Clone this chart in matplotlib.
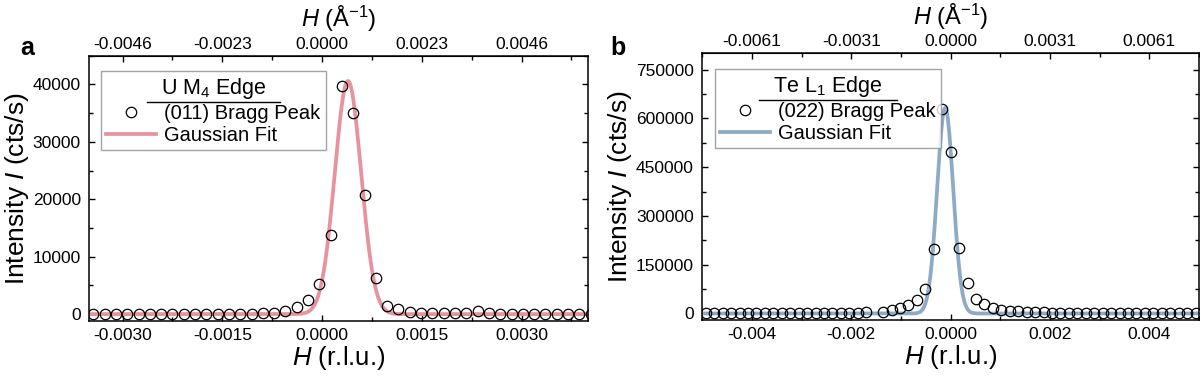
import numpy as np
import matplotlib
matplotlib.use("Agg")
import matplotlib.pyplot as plt
from matplotlib.lines import Line2D
from matplotlib.ticker import MultipleLocator

plt.rcParams['font.family'] = ['Liberation Sans', 'DejaVu Sans']
plt.rcParams['mathtext.fontset'] = 'custom'
plt.rcParams['mathtext.rm'] = 'Liberation Sans'
plt.rcParams['mathtext.it'] = 'Liberation Sans:italic'
plt.rcParams['mathtext.bf'] = 'Liberation Sans:bold'
plt.rcParams['axes.unicode_minus'] = False

# ---------------- Panel a data: U M4 edge, (011) Bragg peak ----------------
a_h = [-0.00344, -0.00327, -0.00310, -0.00293, -0.00276, -0.00259, -0.00242,
       -0.00225, -0.00208, -0.00191, -0.00174, -0.00157, -0.00140, -0.00123,
       -0.00106, -0.00089, -0.00072, -0.00055, -0.00038, -0.00021, -0.00004,
       0.00013, 0.00030, 0.00047, 0.00064, 0.00081, 0.00098, 0.00115,
       0.00132, 0.00149, 0.00166, 0.00183, 0.00200, 0.00217, 0.00234,
       0.00251, 0.00268, 0.00285, 0.00302, 0.00319, 0.00336, 0.00353,
       0.00370, 0.00387, 0.00404]
a_int = [0, 20, 0, 10, 0, 20, 10, 0, 30, 20, 40, 30, 60, 80,
         100, 120, 200, 600, 1300, 2500, 5300,
         13700, 39800, 35000, 20800, 6300, 1400, 900,
         450, 250, 180, 150, 150, 120, 500,
         120, 100, 100, 100, 80, 80, 80,
         60, 60, 60]
# Gaussian fit parameters
a_fit_center, a_fit_amp, a_fit_sigma = 0.00039, 40600, 0.000198

# ---------------- Panel b data: Te L1 edge, (022) Bragg peak ----------------
b_h = [-0.00493, -0.00476, -0.00459, -0.00442, -0.00425, -0.00408, -0.00391,
       -0.00374, -0.00357, -0.00340, -0.00323, -0.00306, -0.00289, -0.00272,
       -0.00255, -0.00238, -0.00221, -0.00204, -0.00187, -0.00170,
       -0.00136, -0.00119, -0.00102, -0.00085, -0.00068, -0.00051,
       -0.00034, -0.00017, 0.00000, 0.00017, 0.00034, 0.00051, 0.00068,
       0.00085, 0.00102, 0.00119, 0.00136, 0.00153, 0.00170, 0.00187,
       0.00204, 0.00221, 0.00238, 0.00255, 0.00272, 0.00289, 0.00306,
       0.00323, 0.00340, 0.00357, 0.00374, 0.00391, 0.00408, 0.00425,
       0.00442, 0.00459, 0.00476, 0.00493]
b_int = [2500, 2500, 2400, 2500, 2400, 2300, 2500, 2400, 2400, 2500, 2600,
         2500, 2400, 2600, 2500, 2600, 2700, 2800, 3000, 3500,
         6000, 10000, 17000, 26000, 41000, 76000,
         197000, 630000, 497000, 202000, 95000, 46000, 28000,
         17000, 11000, 8500, 7000, 6000, 4500, 3500,
         2800, 2500, 2300, 2200, 2200, 2100, 2100,
         2000, 2000, 2000, 2000, 2000, 2000, 2000,
         2000, 2000, 2000, 2000]
b_fit_center, b_fit_amp, b_fit_sigma = -0.00011, 632000, 0.000162

# Axis ticks / labels
a_xticks = [-0.0030, -0.0015, 0.0000, 0.0015, 0.0030]
a_top_labels = ['-0.0046', '-0.0023', '0.0000', '0.0023', '0.0046']
a_yticks = [0, 10000, 20000, 30000, 40000]
b_xticks = [-0.004, -0.002, 0.000, 0.002, 0.004]
b_xticklabels = ['-0.004', '-0.002', '0.0000', '0.002', '0.004']
b_top_labels = ['-0.0061', '-0.0031', '0.0000', '0.0031', '0.0061']
b_yticks = [0, 150000, 300000, 450000, 600000, 750000]

PINK = '#E6939F'
BLUE = '#8DAAC6'

fig = plt.figure(figsize=(12, 3.76), dpi=100)
W, H = 1200, 376
ax1 = fig.add_axes([89.3 / W, 1 - 321 / H, (588 - 89.3) / W, (321 - 55.7) / H])
ax2 = fig.add_axes([702.3 / W, 1 - 320 / H, (1199 - 702.3) / W, (320 - 53.3) / H])


def gauss(x, c, a, s):
    return a * np.exp(-0.5 * ((x - c) / s) ** 2)


def style_axes(ax, xticks, xticklabels, top_labels, yticks, xminor, yminor,
               xlim, ylim, ylab_x):
    ax.set_xlim(*xlim)
    ax.set_ylim(*ylim)
    ax.set_xticks(xticks)
    if xticklabels is not None:
        ax.set_xticklabels(xticklabels)
    else:
        ax.xaxis.set_major_formatter(matplotlib.ticker.FormatStrFormatter('%.4f'))
    ax.set_yticks(yticks)
    ax.xaxis.set_minor_locator(MultipleLocator(xminor))
    ax.yaxis.set_minor_locator(MultipleLocator(yminor))
    ax.tick_params(which='both', direction='in', top=True, right=True,
                   width=1.0, labelsize=12.5)
    ax.tick_params(which='major', length=4.5)
    ax.tick_params(which='minor', length=3)
    ax.tick_params(axis='x', which='major', pad=5)
    ax.tick_params(axis='y', which='major', pad=6)
    for sp in ax.spines.values():
        sp.set_linewidth(1.1)
    sec = ax.secondary_xaxis('top')
    sec.set_xticks(xticks)
    sec.set_xticklabels(top_labels)
    sec.tick_params(length=0, labelsize=12.5, pad=3)
    sec.set_xlabel('$H$ (Å$^{-1}$)', fontsize=17, labelpad=7)
    ax.set_xlabel('$H$ (r.l.u.)', fontsize=18.5, labelpad=1)
    ax.set_ylabel('Intensity $I$ (cts/s)', fontsize=19)
    ax.yaxis.set_label_coords(ylab_x, 0.5)
    return sec


# Panel a
xa = np.linspace(-0.0035, 0.0040, 600)
ax1.plot(xa, gauss(xa, a_fit_center, a_fit_amp, a_fit_sigma), color=PINK,
         lw=2.7, zorder=2, solid_capstyle='butt')
ax1.plot(a_h, a_int, 'o', mfc='none', mec='black', mew=0.9, ms=7.5, zorder=3)
style_axes(ax1, a_xticks, None, a_top_labels, a_yticks, 0.00075, 5000,
           (-0.0035, 0.0040), (-1200, 45000), (31 - 89.3) / 498.7)

# Panel b
xb = np.linspace(-0.005, 0.005, 800)
ax2.plot(xb, gauss(xb, b_fit_center, b_fit_amp, b_fit_sigma), color=BLUE,
         lw=2.7, zorder=2, solid_capstyle='butt')
ax2.plot(b_h, b_int, 'o', mfc='none', mec='black', mew=0.9, ms=7.5, zorder=3)
style_axes(ax2, b_xticks, b_xticklabels, b_top_labels, b_yticks, 0.001, 75000,
           (-0.005, 0.005), (-20000, 800000), (634 - 702.3) / 496.7)


# Legends
def make_legend(ax, title, peak_label, color, anchor):
    h_pts = Line2D([], [], ls='none', marker='o', mfc='none', mec='black',
                   mew=0.9, ms=7.5)
    h_fit = Line2D([], [], color=color, lw=2.7)
    leg = ax.legend([h_pts, h_fit], [peak_label, 'Gaussian Fit'], title=title,
                    loc='upper left', bbox_to_anchor=anchor, frameon=True,
                    fancybox=False, edgecolor='#8c8c8c', fontsize=14.5,
                    title_fontsize=15.5, borderpad=0.25, labelspacing=0.15,
                    handlelength=2.5, handletextpad=0.4, borderaxespad=0.0)
    leg.get_frame().set_linewidth(1.0)
    return leg


leg1 = make_legend(ax1, 'U M$_\\mathregular{4}$ Edge', '(011) Bragg Peak', PINK,
                   (0.0235, 0.943))
leg2 = make_legend(ax2, 'Te L$_\\mathregular{1}$ Edge', '(022) Bragg Peak', BLUE,
                   (0.0256, 0.941))

# Panel letters
fig.text(27 / W, 1 - 48 / H, 'a', fontsize=18, fontweight='bold',
         ha='center', va='center')
fig.text(618 / W, 1 - 48 / H, 'b', fontsize=18, fontweight='bold',
         ha='center', va='center')

# Underline legend titles
fig.canvas.draw()
inv = fig.transFigure.inverted()
for leg in (leg1, leg2):
    bb = leg.get_title().get_window_extent()
    x0, x1 = bb.x0 - 14, bb.x1 + 14
    y = bb.y0 - 1
    (fx0, fy), (fx1, _) = inv.transform([(x0, y), (x1, y)])
    fig.add_artist(Line2D([fx0, fx1], [fy, fy], color='black', lw=1.0,
                          transform=fig.transFigure))

fig.savefig('out.png', dpi=100)
